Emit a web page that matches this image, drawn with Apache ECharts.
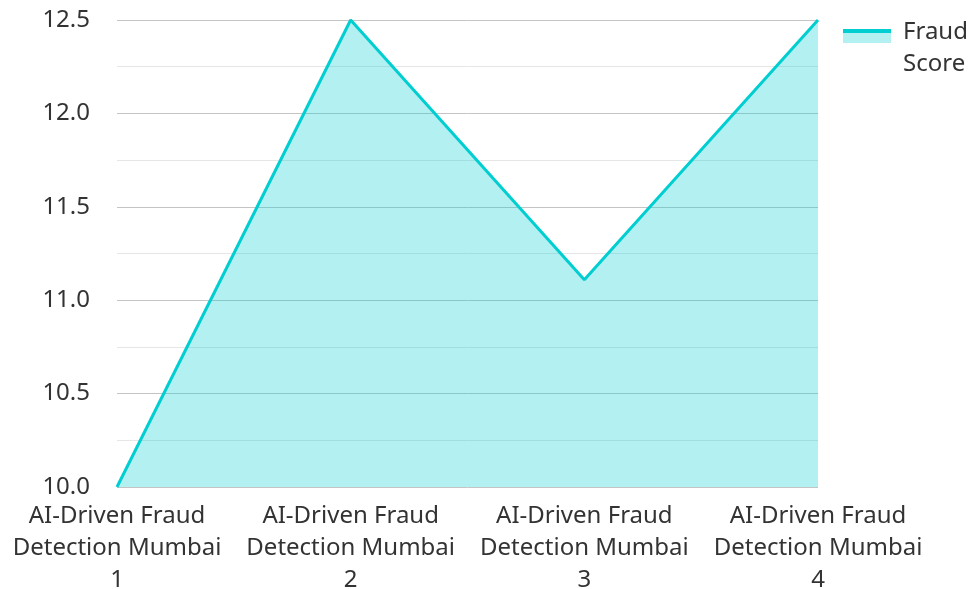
<!DOCTYPE html>
<html><head><meta charset="utf-8">
<script src="https://cdn.jsdelivr.net/npm/echarts@6/dist/echarts.min.js"></script>
<style>html,body{margin:0;padding:0;background:#fff}#c{width:972px;height:589px}</style>
</head><body><div id="c"></div>
<script>
const categories = ['AI-Driven Fraud\nDetection Mumbai\n1','AI-Driven Fraud\nDetection Mumbai\n2','AI-Driven Fraud\nDetection Mumbai\n3','AI-Driven Fraud\nDetection Mumbai\n4'];
const fraudScore = [10.0, 12.5, 11.11, 12.5];
const seriesName = 'Fraud Score';
const lineColor = '#00CED1';
const font = 'Noto Sans';
const chart = echarts.init(document.getElementById('c'));
chart.setOption({
  animation: false,
  textStyle: {fontFamily: font},
  grid: {left: 117, right: 154, top: 20, bottom: 102, containLabel: false, outerBoundsMode: 'none'},
  xAxis: {
    type: 'category', data: categories, boundaryGap: false,
    axisLine: {show: false}, axisTick: {show: false},
    axisLabel: {fontSize: 24, color: '#333', lineHeight: 32, margin: 13, interval: 0, hideOverlap: false, fontFamily: font}
  },
  yAxis: {
    type: 'value', min: 10, max: 12.5, interval: 0.5,
    axisLine: {show: false}, axisTick: {show: false},
    axisLabel: {fontSize: 24, color: '#333', margin: 27, fontFamily: font, formatter: v => v.toFixed(1)},
    splitLine: {show: true, lineStyle: {color: '#c4c4c4', width: 1}},
    minorTick: {show: false, splitNumber: 2},
    minorSplitLine: {show: true, lineStyle: {color: '#e6e6e6', width: 1}}
  },
  series: [{
    name: seriesName, type: 'line', data: fraudScore, symbol: 'none',
    lineStyle: {color: lineColor, width: 3},
    itemStyle: {color: lineColor},
    areaStyle: {color: lineColor, opacity: 0.3}
  }],
  graphic: [
    {type: 'rect', left: 843, top: 29, shape: {width: 48, height: 14}, style: {fill: 'rgba(0,206,209,0.3)'}},
    {type: 'rect', left: 843, top: 29, shape: {width: 48, height: 4}, style: {fill: lineColor}},
    {type: 'text', left: 903, top: 16, style: {text: 'Fraud\nScore', font: '24px "Noto Sans"', lineHeight: 32, fill: '#333'}}
  ]
});
</script></body></html>
